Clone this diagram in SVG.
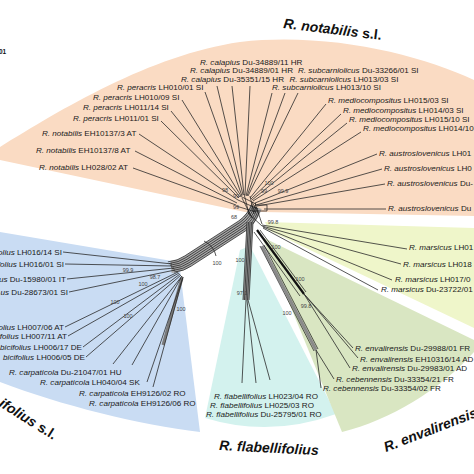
<svg xmlns="http://www.w3.org/2000/svg" width="474" height="474" viewBox="0 0 474 474">
<style>
.lb{font-family:"Liberation Sans",Arial,sans-serif;font-size:8.1px;fill:#1a1a1a}
.it{font-style:italic}
.bs{font-family:"Liberation Sans",Arial,sans-serif;font-size:5.5px;fill:#444;text-anchor:middle}
.ttl{font-family:"Liberation Sans",Arial,sans-serif;font-size:14px;font-weight:bold;fill:#111}
.ln{stroke:#2a2a2a;stroke-width:0.8;fill:none}
.bn{stroke:#151515;stroke-width:0.7;fill:none}
.gb{stroke:#a8a8a8;fill:none}
</style>
<defs>
<path id="trunk" d="M256,207 Q252,219 242,226 L188,261 Q181,266 171,267"/>
<path id="flabb" d="M250,222 L246,300"/>
</defs>
<g id="regions">
<path id="reg-notabilis" d="M0,147 C60,110 150,55 240,42 C330,32 420,55 474,80 L474,216 L262,212 L245,212 L0,160 Z" fill="#fadbc3"/>
<path id="reg-cassubicifolius" d="M0,232 L178,262 L180,270 L200,432 C140,425 60,405 0,382 Z" fill="#c9dcf3"/>
<path id="reg-flabellifolius" d="M240,250 L250,246 L336,414 Q270,438 205,418 Z" fill="#d3f2ee"/>
<path id="reg-envalirensis" d="M262,237 L474,340 L474,352 C440,390 390,420 342,432 Z" fill="#d9e6c2"/>
<path id="reg-marsicus" d="M265,222 L474,228 L474,328 L268,230 Z" fill="#eff6ca"/>
</g>
<g id="connectors">
<use href="#trunk" class="gb" stroke-width="12"/>
<use href="#trunk" class="bn" transform="translate(-3.2,-5.1)"/>
<use href="#trunk" class="bn" transform="translate(-2.2,-3.4)"/>
<use href="#trunk" class="bn" transform="translate(-1.1,-1.7)"/>
<use href="#trunk" class="bn"/>
<use href="#trunk" class="bn" transform="translate(1.1,1.7)"/>
<use href="#trunk" class="bn" transform="translate(2.2,3.4)"/>
<use href="#trunk" class="bn" transform="translate(3.2,5.1)"/>
<path d="M204,241 Q214,246 216,256" class="ln"/>
<use href="#flabb" class="gb" stroke-width="6"/>
<use href="#flabb" class="bn" transform="translate(-3,0)"/>
<use href="#flabb" class="bn" transform="translate(-1.5,0)"/>
<use href="#flabb" class="bn"/>
<use href="#flabb" class="bn" transform="translate(1.5,0)"/>
<use href="#flabb" class="bn" transform="translate(3,0)"/>
<path d="M257,230 L304,294" stroke="#111" stroke-width="2.2" fill="none"/>
<path d="M260,230 L306,292 M254,232 L300,296" class="bn"/>
<path d="M262,246 L316,350" stroke="#8a8a8a" stroke-width="3" fill="none"/>
<path d="M260,246 L314,351 M264,245 L318,349" class="bn"/>
<path d="M238,200 L258,209 M240,196 L256,204 M236,206 L256,212 M244,194 L249,214 M250,196 L254,214 M242,198 L252,218 M255,203 L262,224 M248,213 L262,226 M255,205 h12 v6 h-12 z" class="bn"/>
<path class="ln" d="M133,168 L236,205 M135,151 L237,203 M139,134 L238,200 M161,121 L239,198 M171,111 L240,197 M182,100 L241,196 M205,92 L242,196 M217,86 L243,195 M232,86 L244,195 M250,86 L245,195 M272,93 L246,196 M285,93 L247,196 M298,93 L248,196 M326,104 L250,198 M341,114 L251,199 M347,123 L252,200 M361,132 L253,201 M377,154 L255,203 M382,169 L256,205 M385,184 L257,206 M386,209 L264,209"/>
<path class="ln" d="M262,225 L407,249 M262,226 L401,264 M263,227 L392,280 M263,228 L378,290"/>
<path class="ln" d="M304,294 L353,348 M304,294 L358,358 M304,294 L350,368 M316,350 L334,379 M316,350 L321,388"/>
<path class="ln" d="M246,300 L242,383 M247,300 L256,383 M248,300 L270,380"/>
<path class="ln" d="M63,252 L172,264 M65,264 L172,266 M67,279 L174,268 M69,292 L175,270 M65,327 L178,272 M68,336 L179,273 M83,347 L180,274 M86,357 L181,275"/>
<path d="M182,278 L163,345" stroke="#7a7a7a" stroke-width="3" fill="none"/>
<path class="ln" d="M182,276 L113,364 M182,276 L132,365 M183,277 L147,382 M183,277 L153,387"/>
</g>
<g id="nodes">
<g id="n1"><text class="lb" x="200" y="65"><tspan class="it">R. calapius</tspan> Du-34889/11 HR</text></g>
<g id="n2"><text class="lb" x="190" y="73.3"><tspan class="it">R. calapius</tspan> Du-34889/01 HR</text></g>
<g id="n3"><text class="lb" x="181" y="81.6"><tspan class="it">R. calapius</tspan> Du-35351/15 HR</text></g>
<g id="n4"><text class="lb" x="298" y="73.3"><tspan class="it">R. subcarniolicus</tspan> Du-33266/01 SI</text></g>
<g id="n5"><text class="lb" x="289.5" y="81.6"><tspan class="it">R. subcarniolicus</tspan> LH013/03 SI</text></g>
<g id="n6"><text class="lb" x="272" y="89.8"><tspan class="it">R. subcarniolicus</tspan> LH013/10 SI</text></g>
<g id="n7"><text class="lb" x="117" y="90"><tspan class="it">R. peracris</tspan> LH010/01 SI</text></g>
<g id="n8"><text class="lb" x="93" y="100"><tspan class="it">R. peracris</tspan> LH010/09 SI</text></g>
<g id="n9"><text class="lb" x="83" y="110"><tspan class="it">R. peracris</tspan> LH011/14 SI</text></g>
<g id="n10"><text class="lb" x="73" y="121"><tspan class="it">R. peracris</tspan> LH011/01 SI</text></g>
<g id="n11"><text class="lb" x="42" y="136"><tspan class="it">R. notabilis</tspan> EH10137/3 AT</text></g>
<g id="n12"><text class="lb" x="36" y="153"><tspan class="it">R. notabilis</tspan> EH10137/8 AT</text></g>
<g id="n13"><text class="lb" x="39" y="170"><tspan class="it">R. notabilis</tspan> LH028/02 AT</text></g>
<g id="n14"><text class="lb" x="328" y="103"><tspan class="it">R. mediocompositus</tspan> LH015/03 SI</text></g>
<g id="n15"><text class="lb" x="343" y="113"><tspan class="it">R. mediocompositus</tspan> LH014/03 SI</text></g>
<g id="n16"><text class="lb" x="349" y="122"><tspan class="it">R. mediocompositus</tspan> LH015/10 SI</text></g>
<g id="n17"><text class="lb" x="363" y="131"><tspan class="it">R. mediocompositus</tspan> LH014/10</text></g>
<g id="n18"><text class="lb" x="379" y="156"><tspan class="it">R. austroslovenicus</tspan> LH01</text></g>
<g id="n19"><text class="lb" x="384" y="171"><tspan class="it">R. austroslovenicus</tspan> LH0</text></g>
<g id="n20"><text class="lb" x="387" y="186"><tspan class="it">R. austroslovenicus</tspan> Du-</text></g>
<g id="n21"><text class="lb" x="388" y="211"><tspan class="it">R. austroslovenicus</tspan> Du</text></g>
<g id="n22"><text class="lb" x="409" y="250"><tspan class="it">R. marsicus</tspan> LH01</text></g>
<g id="n23"><text class="lb" x="403" y="267"><tspan class="it">R. marsicus</tspan> LH018</text></g>
<g id="n24"><text class="lb" x="395" y="282"><tspan class="it">R. marsicus</tspan> LH017/0</text></g>
<g id="n25"><text class="lb" x="381" y="292"><tspan class="it">R. marsicus</tspan> Du-23722/01</text></g>
<g id="n26"><text class="lb" x="355" y="351"><tspan class="it">R. envalirensis</tspan> Du-29988/01 FR</text></g>
<g id="n27"><text class="lb" x="360" y="362"><tspan class="it">R. envalirensis</tspan> EH10316/14 AD</text></g>
<g id="n28"><text class="lb" x="352" y="371"><tspan class="it">R. envalirensis</tspan> Du-29983/01 AD</text></g>
<g id="n29"><text class="lb" x="336" y="382"><tspan class="it">R. cebennensis</tspan> Du-33354/21 FR</text></g>
<g id="n30"><text class="lb" x="323" y="391"><tspan class="it">R. cebennensis</tspan> Du-33354/02 FR</text></g>
<g id="n31"><text class="lb" x="214" y="399"><tspan class="it">R. flabellifolius</tspan> LH023/04 RO</text></g>
<g id="n32"><text class="lb" x="210" y="408"><tspan class="it">R. flabellifolius</tspan> LH025/03 RO</text></g>
<g id="n33"><text class="lb" x="206" y="417"><tspan class="it">R. flabellifolius</tspan> Du-25795/01 RO</text></g>
<g id="n34"><text class="lb" x="62" y="255" text-anchor="end"><tspan class="it">olius</tspan> LH016/14 SI</text></g>
<g id="n35"><text class="lb" x="64" y="267" text-anchor="end"><tspan class="it">folius</tspan> LH016/01 SI</text></g>
<g id="n36"><text class="lb" x="66" y="282" text-anchor="end"><tspan class="it">us</tspan> Du-15980/01 IT</text></g>
<g id="n37"><text class="lb" x="68" y="295" text-anchor="end"><tspan class="it">us</tspan> Du-28673/01 SI</text></g>
<g id="n38"><text class="lb" x="64" y="330" text-anchor="end"><tspan class="it">olius</tspan> LH007/06 AT</text></g>
<g id="n39"><text class="lb" x="67" y="339" text-anchor="end"><tspan class="it">icifolius</tspan> LH007/11 AT</text></g>
<g id="n40"><text class="lb" x="82" y="350" text-anchor="end"><tspan class="it">bicifolius</tspan> LH006/17 DE</text></g>
<g id="n41"><text class="lb" x="85" y="360" text-anchor="end"><tspan class="it">bicifolius</tspan> LH006/05 DE</text></g>
<g id="n42"><text class="lb" x="9" y="375"><tspan class="it">R. carpaticola</tspan> Du-21047/01 HU</text></g>
<g id="n43"><text class="lb" x="40" y="385"><tspan class="it">R. carpaticola</tspan> LH040/04 SK</text></g>
<g id="n44"><text class="lb" x="79" y="396"><tspan class="it">R. carpaticola</tspan> EH9126/02 RO</text></g>
<g id="n45"><text class="lb" x="89" y="406"><tspan class="it">R. carpaticola</tspan> EH9126/06 RO</text></g>
</g>
<g id="support">
<text class="bs" x="225" y="192">98</text>
<text class="bs" x="236" y="198">99</text>
<text class="bs" x="236" y="209">99</text>
<text class="bs" x="234" y="219">68</text>
<text class="bs" x="269" y="185">100</text>
<text class="bs" x="264" y="193">99</text>
<text class="bs" x="283" y="193">99.9</text>
<text class="bs" x="273" y="224">99.8</text>
<text class="bs" x="217" y="265">100</text>
<text class="bs" x="276" y="249">100</text>
<text class="bs" x="240" y="262">100</text>
<text class="bs" x="242" y="295">97.1</text>
<text class="bs" x="300" y="281">100</text>
<text class="bs" x="306" y="308">99.8</text>
<text class="bs" x="287" y="315">100</text>
<text class="bs" x="128" y="272">99.9</text>
<text class="bs" x="155" y="279">98.7</text>
<text class="bs" x="143" y="286">100</text>
<text class="bs" x="115" y="304">100</text>
<text class="bs" x="128" y="318">100</text>
<text class="bs" x="181" y="311">100</text>
</g>
<g id="titles">
<text class="ttl" transform="translate(283,28) rotate(7)"><tspan class="it">R. notabilis</tspan> s.l.</text>
<text class="ttl" transform="translate(219,450) rotate(3)"><tspan class="it">R. flabellifolius</tspan></text>
<text class="ttl" transform="translate(386,452) rotate(-21)"><tspan class="it">R. envalirensis</tspan> s.l.</text>
<text class="ttl" text-anchor="end" transform="translate(53,440) rotate(32)"><tspan class="it">ifolius</tspan> s.l.</text>
<text x="-1" y="54" font-family="Liberation Sans, Arial, sans-serif" font-size="6.5" font-weight="bold" fill="#111">01</text>
</g>
</svg>
